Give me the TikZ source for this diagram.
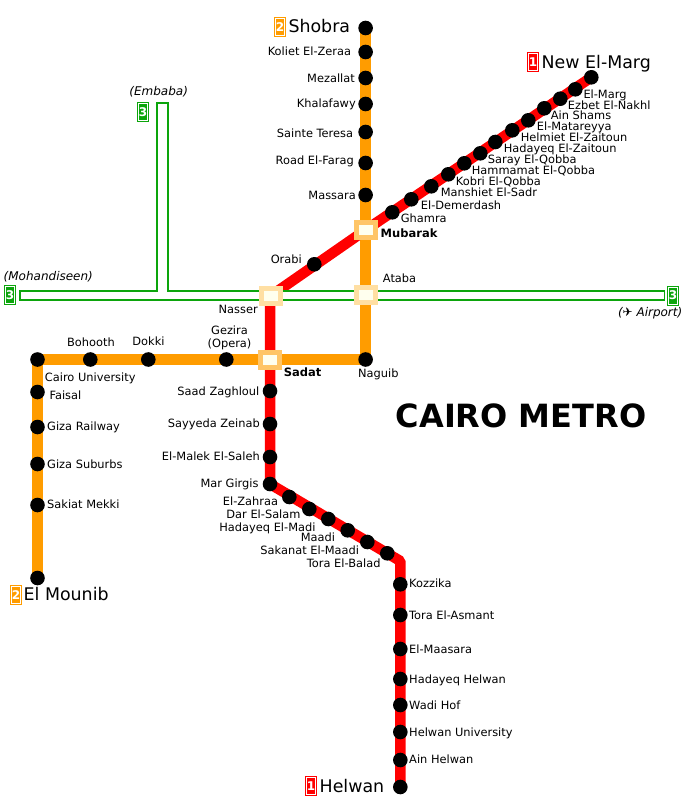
\documentclass[tikz,border=0pt]{standalone}
\usepackage{fontspec}
\setmainfont{DejaVu Sans}
\pgfdeclarelayer{lines}
\pgfdeclarelayer{tube}
\pgfsetlayers{lines,tube,main}
\definecolor{lineorange}{HTML}{FF9C00}
\definecolor{linered}{HTML}{FF0000}
\definecolor{linegreen}{HTML}{0CA50C}
\definecolor{boxa}{HTML}{FFDFA3}
\definecolor{boxb}{HTML}{FFC566}
\definecolor{boxcream}{HTML}{FFFFEE}
\tikzset{
  stn/.style={circle,fill=black,minimum size=14.6pt,inner sep=0pt},
  xbox/.style={rectangle,draw=#1,fill=boxcream,line width=5pt,minimum width=19pt,minimum height=15pt,inner sep=0pt},
  lbl/.style={inner sep=0pt,text height=8pt,text depth=0pt,font=\fontsize{11.4}{13}\selectfont,text=black},
  lw/.style={lbl,anchor=west},
  le/.style={lbl,anchor=east},
  boldlbl/.style={inner sep=0pt,anchor=west,text height=8pt,text depth=0pt,font=\fontsize{11.5}{13}\selectfont\bfseries},
  term/.style={inner sep=0pt,anchor=west,text height=12pt,text depth=0pt,font=\fontsize{17.4}{20}\selectfont},
  shield/.style={rectangle,fill=#1,draw=#1,line width=1pt,double=white,double distance=1pt,minimum width=9pt,minimum height=17pt,inner sep=0pt,text=white,font=\fontsize{12}{12}\selectfont\bfseries},
  orangeline/.style={draw=lineorange,line width=10.5pt,line join=miter},
  redline/.style={draw=linered,line width=10.5pt,line join=bevel},
  greentube/.style={draw=linegreen,fill=white,line width=1.8pt,line join=miter},
  ital/.style={inner sep=0pt,font=\fontsize{12}{13}\selectfont\itshape}
}
\begin{document}
\begin{tikzpicture}[x=1pt,y=-1pt]
\useasboundingbox (0,0) rectangle (700,800);
\begin{pgfonlayer}{lines}
\fill[white] (0,0) rectangle (700,800);
\end{pgfonlayer}

% Line 2 stations
\node[stn] (shobra) at (365.6,28) {};
\node[stn] (koliet) at (365.6,52) {};
\node[stn] (mezallat) at (365.6,78) {};
\node[stn] (khalafawy) at (365.6,104) {};
\node[stn] (sainte) at (365.6,132) {};
\node[stn] (road) at (365.6,163) {};
\node[stn] (massara) at (365.6,195) {};
\node[stn] (naguib) at (365.6,359.5) {};
\node[stn] (gezira) at (226.3,359.5) {};
\node[stn] (dokki) at (148.3,359.5) {};
\node[stn] (bohooth) at (90.3,359.5) {};
\node[stn] (cairouni) at (37.5,359.5) {};
\node[stn] (faisal) at (37.5,392) {};
\node[stn] (gizarail) at (37.5,427) {};
\node[stn] (gizasub) at (37.5,464) {};
\node[stn] (sakiat) at (37.5,505) {};
\node[stn] (mounib) at (37.5,578) {};

% Line 1 stations
\node[stn] (newmarg) at (591.3,77.3) {};
\node[stn] (elmarg) at (575.3,89.3) {};
\node[stn] (ezbet) at (560.3,98.7) {};
\node[stn] (ainshams) at (544.3,108.3) {};
\node[stn] (matareyya) at (528.3,120.3) {};
\node[stn] (helmiet) at (512.3,130.3) {};
\node[stn] (hadzait) at (495.3,142) {};
\node[stn] (saray) at (480.3,153.3) {};
\node[stn] (hammamat) at (464.3,163.3) {};
\node[stn] (kobri) at (448.3,174.3) {};
\node[stn] (manshiet) at (431.3,186.3) {};
\node[stn] (demerdash) at (411.3,199.3) {};
\node[stn] (ghamra) at (392.3,212.3) {};
\node[stn] (orabi) at (314.3,264.3) {};
\node[stn] (saad) at (270,391) {};
\node[stn] (sayyeda) at (270,424) {};
\node[stn] (malek) at (270,457) {};
\node[stn] (margirgis) at (270,484) {};
\node[stn] (zahraa) at (289.3,497) {};
\node[stn] (darsalam) at (309.3,509) {};
\node[stn] (hadmadi) at (328.3,519) {};
\node[stn] (maadi) at (347.7,530.3) {};
\node[stn] (sakanat) at (367.3,542) {};
\node[stn] (torabalad) at (387.3,553.3) {};
\coordinate (redbend) at (400.3,561);
\node[stn] (kozzika) at (400.3,584.3) {};
\node[stn] (toraasm) at (400.3,615) {};
\node[stn] (maasara) at (400.3,649) {};
\node[stn] (hadhelwan) at (400.3,679) {};
\node[stn] (wadihof) at (400.3,705) {};
\node[stn] (helwanuni) at (400.3,732) {};
\node[stn] (ainhelwan) at (400.3,760) {};
\node[stn] (helwan) at (400.3,787) {};

% Interchanges
\node[xbox=boxb] (mubarak) at (365.6,230) {};
\node[xbox=boxa] (ataba) at (365.6,295) {};
\node[xbox=boxa] (nasser) at (270.5,296) {};
\node[xbox=boxb] (sadat) at (270,359.5) {};

% Lines
\begin{pgfonlayer}{lines}
\draw[orangeline] (shobra.center) -- (naguib.center) -- (cairouni.center) -- (mounib.center);
\draw[redline] (newmarg.center) -- (mubarak.center) -- (nasser.center);
\draw[redline] (nasser.center -| saad) -- (margirgis.center) -- (torabalad.center) -- (redbend) -- (helwan.center);
\end{pgfonlayer}

% Line 3, a hollow tube
\coordinate (tubeA) at (20,290.7);
\coordinate (tubeB) at (157,290.7);
\coordinate (tubeC) at (157,102.7);
\coordinate (tubeD) at (168,102.7);
\coordinate (tubeE) at (168,290.7);
\coordinate (tubeF) at (664.5,290.7);
\coordinate (tubeG) at (664.5,300);
\coordinate (tubeH) at (20,300);
\begin{pgfonlayer}{tube}
\draw[greentube] (tubeA) -- (tubeB) -- (tubeC) -- (tubeD) -- (tubeE) -- (tubeF) -- (tubeG) -- (tubeH) -- cycle;
\end{pgfonlayer}

% Shields
\node[shield=lineorange] (sh2top) at (280,27) {2};
\node[shield=linered] (sh1top) at (533,62) {1};
\node[shield=linegreen] (sh3emb) at (143,112) {3};
\node[shield=linegreen] (sh3moh) at (10,295) {3};
\node[shield=linegreen] (sh3air) at (673,295.5) {3};
\node[shield=lineorange] (sh2bot) at (16,595) {2};
\node[shield=linered] (sh1bot) at (311,786) {1};

% Terminus labels
\node[term] (tshobra) at (288.3,26.5) {Shobra};
\node[term] (tnewmarg) at (541.5,62) {New El-Marg};
\node[term] (tmounib) at (23.5,594.5) {El Mounib};
\node[term] (thelwan) at (319.5,786) {Helwan};

% Italic labels
\node[ital] (tembaba) at (158.7,91.5) {(Embaba)};
\node[ital,anchor=west] (tmohand) at (3.5,277) {(Mohandiseen)};
\node[ital,anchor=east] (tairport) at (682.5,313.5) {({\upshape ✈} Airport)};

% Title
\node[inner sep=0pt,font=\fontsize{32}{36}\selectfont\bfseries] (title) at (521,416) {CAIRO METRO};

% Line 2 labels
\node[le] (lkoliet) at (351.3,52) {Koliet El-Zeraa};
\node[le] (lmezallat) at (355,78) {Mezallat};
\node[le] (lkhalafawy) at (356,103) {Khalafawy};
\node[le] (lsainte) at (353.3,133) {Sainte Teresa};
\node[le] (lroad) at (354,160) {Road El-Farag};
\node[le] (lmassara) at (356,195) {Massara};
\node[lw] (lnaguib) at (358,373) {Naguib};
\node[lbl,text height=,text depth=,align=center] (lgezira) at (229.5,337.5) {Gezira\\(Opera)};
\node[lbl] (ldokki) at (148.5,341) {Dokki};
\node[lbl] (lbohooth) at (91,342) {Bohooth};
\node[lw] (lcairouni) at (44.7,377) {Cairo University};
\node[lw] (lfaisal) at (49.3,395) {Faisal};
\node[lw] (lgizarail) at (47,426) {Giza Railway};
\node[lw] (lgizasub) at (47,464) {Giza Suburbs};
\node[lw] (lsakiat) at (47,504) {Sakiat Mekki};

% Interchange labels
\node[boldlbl] (lmubarak) at (380.5,233) {Mubarak};
\node[boldlbl] (lsadat) at (283.7,372) {Sadat};
\node[lw] (lataba) at (382.7,278) {Ataba};
\node[le] (lnasser) at (258,309) {Nasser};
\node[le] (lorabi) at (302,259) {Orabi};

% Line 1 labels, north-east
\node[lw] (lelmarg) at (583.3,94.3) {El-Marg};
\node[lw] (lezbet) at (567.7,105) {Ezbet El-Nakhl};
\node[lw] (lainshams) at (550.7,115) {Ain Shams};
\node[lw] (lmatareyya) at (536.7,126) {El-Matareyya};
\node[lw] (lhelmiet) at (520.7,137) {Helmiet El-Zaitoun};
\node[lw] (lhadzait) at (503.7,148.3) {Hadayeq El-Zaitoun};
\node[lw] (lsaray) at (487.7,159) {Saray El-Qobba};
\node[lw] (lhammamat) at (471.7,170.7) {Hammamat El-Qobba};
\node[lw] (lkobri) at (455.7,181) {Kobri El-Qobba};
\node[lw] (lmanshiet) at (440.7,192) {Manshiet El-Sadr};
\node[lw] (ldemerdash) at (420.7,205) {El-Demerdash};
\node[lw] (lghamra) at (400.7,218) {Ghamra};

% Line 1 labels, south
\node[le] (lsaad) at (259.5,391) {Saad Zaghloul};
\node[le] (lsayyeda) at (260,423) {Sayyeda Zeinab};
\node[le] (lmalek) at (260,456) {El-Malek El-Saleh};
\node[le] (lmargirgis) at (258.7,483.7) {Mar Girgis};
\node[le] (lzahraa) at (278.3,501) {El-Zahraa};
\node[le] (ldarsalam) at (300.7,514) {Dar El-Salam};
\node[le] (lhadmadi) at (315.7,527) {Hadayeq El-Madi};
\node[le] (lmaadi) at (335.3,537) {Maadi};
\node[le] (lsakanat) at (359.3,550) {Sakanat El-Maadi};
\node[le] (ltorabalad) at (380.7,563) {Tora El-Balad};
\node[lw] (lkozzika) at (409,583) {Kozzika};
\node[lw] (ltoraasm) at (409,615) {Tora El-Asmant};
\node[lw] (lmaasara) at (409,649) {El-Maasara};
\node[lw] (lhadhelwan) at (409,679) {Hadayeq Helwan};
\node[lw] (lwadihof) at (409,705) {Wadi Hof};
\node[lw] (lhelwanuni) at (409,732) {Helwan University};
\node[lw] (lainhelwan) at (409,759) {Ain Helwan};
\end{tikzpicture}
\end{document}
